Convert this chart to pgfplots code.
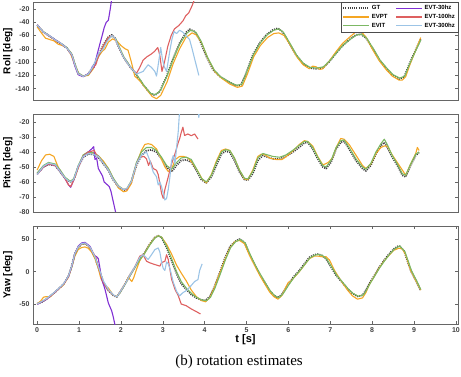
\documentclass[border=0pt]{standalone}
\usepackage{pgfplots}
\pgfplotsset{compat=1.18}
\usepackage{fontspec}
\setmainfont{Liberation Sans}
\newfontfamily\capfont{Liberation Serif}
\definecolor{cGT}{RGB}{64,64,64}
\definecolor{cEVPT}{RGB}{245,166,35}
\definecolor{cEVIT}{RGB}{124,184,100}
\definecolor{cT30}{RGB}{128,48,212}
\definecolor{cT100}{RGB}{222,96,96}
\definecolor{cT300}{RGB}{156,196,230}
\pgfplotsset{
  panel/.style={
    width=425pt, height=98pt, scale only axis,
    xmin=-0.1, xmax=10.05,
    axis line style={black!60, line width=0.6pt},
    tick style={black!60, line width=0.5pt},
    tick align=inside, major tick length=3pt,
    ytick pos=both, yticklabel pos=left,
    tick label style={font=\fontsize{7}{8}\selectfont\bfseries, text=black!75},
    /pgf/number format/assume math mode=true,
    ylabel style={font=\fontsize{10}{12}\selectfont\bfseries, at={(axis description cs:-0.059,0.5)}, anchor=center},
    every axis plot/.append style={line width=1.1pt, line join=round},
  },
  gt/.style={cGT, line width=1.7pt, dash pattern=on 1.1pt off 1.1pt},
  evpt/.style={cEVPT},
  evit/.style={cEVIT},
  t30/.style={cT30},
  t100/.style={cT100},
  t300/.style={cT300},
}
\begin{document}
\begin{tikzpicture}
\path[use as bounding box] (0,0) rectangle (461pt,-377pt);
% ---------------- Roll ----------------
\begin{axis}[panel, at={(33pt,-100pt)}, anchor=south west,
  ymin=-157, ymax=-9.5, ytick={-140,-120,...,-20}, xtick=\empty,
  ylabel={Roll [deg]},
  legend columns=3, transpose legend,
  legend style={at={(1,1)}, anchor=north east, draw=black!70, line width=0.5pt,
    font=\fontsize{6}{6.5}\selectfont\bfseries, inner sep=1pt, row sep=-1pt,
    /tikz/every even column/.append style={column sep=6pt}},
  legend cell align=left,
  legend image code/.code={\draw[#1] (0pt,0pt) -- (26pt,0pt);},
]
\addplot[gt] coordinates {(0,-44) (0.15,-55) (0.31,-61.5) (0.45,-68) (0.55,-71.5) (0.71,-79) (0.83,-89) (0.90,-104) (0.98,-117.5) (1.10,-121.5) (1.22,-118) (1.34,-106) (1.46,-90) (1.58,-74) (1.70,-62) (1.78,-59) (1.86,-64) (1.94,-76.5) (2.05,-91.5) (2.21,-106.5) (2.37,-119) (2.53,-134) (2.69,-146.5) (2.81,-150) (2.93,-144) (3.09,-121.5) (3.25,-94) (3.40,-71.5) (3.56,-55) (3.64,-50.5) (3.76,-54) (3.88,-66.5) (4.04,-91.5) (4.20,-111.5) (4.36,-121.5) (4.60,-130.5) (4.75,-135.5) (4.87,-134) (4.99,-116.5) (5.15,-89) (5.31,-71.5) (5.47,-59) (5.63,-51.5) (5.75,-49) (5.86,-54.5) (6.02,-71.5) (6.18,-89) (6.34,-101.5) (6.50,-109) (6.66,-110) (6.82,-109) (6.98,-99) (7.14,-86.5) (7.29,-75.5) (7.45,-66.5) (7.61,-59) (7.73,-58) (7.85,-63.5) (8.01,-79) (8.17,-96.5) (8.33,-109) (8.48,-119) (8.64,-125.5) (8.76,-123) (8.88,-104) (9.04,-81.5) (9.16,-65.5)};
\addlegendentry{GT}
\addplot[evpt] coordinates {(0,-47) (0.1,-56) (0.2,-64) (0.3,-66) (0.4,-68) (0.5,-73) (0.6,-75) (0.7,-78) (0.8,-88) (0.9,-104) (1.0,-118) (1.1,-121) (1.22,-120) (1.34,-110) (1.46,-92) (1.55,-84) (1.62,-80) (1.7,-70) (1.8,-65) (1.9,-68) (2.0,-75) (2.1,-80) (2.17,-82) (2.25,-100) (2.33,-121) (2.45,-128) (2.6,-140) (2.75,-152) (2.85,-155) (2.95,-150) (3.1,-130) (3.25,-102) (3.4,-80) (3.55,-63) (3.7,-56) (3.8,-59) (3.92,-70) (4.08,-95) (4.25,-115) (4.4,-124) (4.6,-133) (4.78,-138) (4.9,-136) (5.02,-118) (5.17,-92) (5.33,-75) (5.5,-63) (5.65,-57) (5.77,-56) (5.9,-60) (6.05,-75) (6.2,-92) (6.35,-104) (6.5,-110) (6.58,-106) (6.66,-107) (6.75,-111) (6.82,-110) (6.98,-98) (7.14,-84) (7.29,-72) (7.45,-63) (7.6,-55) (7.72,-53) (7.85,-62) (8.0,-80) (8.17,-98) (8.33,-111) (8.48,-121) (8.64,-127) (8.72,-127) (8.8,-122) (8.9,-104) (9.04,-82) (9.16,-63)};
\addlegendentry{EVPT}
\addplot[evit] coordinates {(0,-45) (0.15,-54) (0.31,-61) (0.45,-67) (0.55,-71) (0.71,-78) (0.83,-88) (0.90,-102) (0.98,-116) (1.10,-121) (1.22,-119) (1.34,-108) (1.46,-92) (1.58,-76) (1.70,-64) (1.80,-61) (1.88,-65) (1.96,-77) (2.07,-92) (2.23,-107) (2.39,-120) (2.55,-135) (2.71,-147) (2.83,-149) (2.95,-142) (3.11,-119) (3.27,-92) (3.42,-71) (3.58,-56) (3.67,-52) (3.79,-55) (3.91,-68) (4.07,-93) (4.23,-112) (4.38,-122) (4.62,-131) (4.77,-135) (4.89,-133) (5.01,-114) (5.17,-88) (5.33,-71) (5.49,-59) (5.65,-52) (5.77,-50) (5.88,-55) (6.04,-72) (6.20,-90) (6.36,-102) (6.52,-108) (6.68,-109) (6.84,-107) (7.00,-97) (7.16,-85) (7.31,-74) (7.47,-66) (7.63,-59) (7.75,-58) (7.87,-64) (8.03,-80) (8.19,-97) (8.35,-109) (8.50,-119) (8.66,-124) (8.78,-121) (8.90,-102) (9.06,-80) (9.16,-67)};
\addlegendentry{EVIT}
\addplot[t30] coordinates {(0,-44) (0.15,-55) (0.31,-61) (0.45,-67) (0.55,-71) (0.71,-79) (0.83,-90) (0.90,-106) (0.98,-119) (1.10,-122) (1.2,-118) (1.28,-114) (1.32,-106) (1.36,-108) (1.4,-96) (1.45,-84) (1.5,-72) (1.56,-58) (1.6,-48) (1.65,-40) (1.7,-37) (1.74,-22) (1.78,-5)};
\addlegendentry{EVT-30hz}
\addplot[t100] coordinates {(0,-44) (0.15,-55) (0.31,-61.5) (0.45,-68) (0.55,-71.5) (0.71,-79) (0.83,-89) (0.90,-104) (0.98,-117.5) (1.10,-121.5) (1.22,-118) (1.34,-108) (1.40,-104) (1.46,-92) (1.58,-75) (1.70,-63) (1.78,-60) (1.86,-64) (1.94,-76.5) (2.05,-91.5) (2.21,-106.5) (2.37,-117) (2.45,-108) (2.53,-97) (2.62,-92) (2.72,-88) (2.8,-84) (2.88,-78) (2.93,-90) (2.98,-114) (3.04,-100) (3.12,-76) (3.2,-60) (3.28,-50) (3.38,-45) (3.48,-38) (3.55,-30) (3.62,-26) (3.70,-15) (3.76,-5)};
\addlegendentry{EVT-100hz}
\addplot[t300] coordinates {(0,-44) (0.15,-55) (0.31,-61) (0.45,-67.5) (0.55,-71) (0.71,-79) (0.83,-89) (0.90,-104) (0.98,-117.5) (1.10,-121.5) (1.22,-118) (1.34,-106) (1.46,-88) (1.52,-84) (1.58,-80) (1.66,-70) (1.78,-60) (1.86,-64) (1.94,-76.5) (2.05,-91.5) (2.21,-106.5) (2.37,-118) (2.45,-116) (2.53,-114) (2.6,-108) (2.65,-104) (2.73,-108) (2.81,-114) (2.85,-121) (2.9,-100) (2.95,-78) (2.99,-95) (3.03,-106) (3.09,-114) (3.17,-82) (3.22,-65) (3.27,-54) (3.33,-57) (3.40,-52) (3.48,-55) (3.56,-61) (3.64,-66) (3.70,-80) (3.78,-100) (3.86,-120)};
\addlegendentry{EVT-300hz}
\end{axis}
% ---------------- Pitch ----------------
\begin{axis}[panel, at={(33pt,-212pt)}, anchor=south west,
  ymin=-80, ymax=-14.7, ytick={-80,-70,...,-20}, xtick=\empty,
  ylabel={Pitch [deg]}]
\addplot[gt] coordinates {(0,-54.4) (0.15,-50) (0.27,-48.3) (0.43,-49) (0.55,-53.3) (0.67,-57.7) (0.79,-60) (0.87,-58.8) (0.98,-50) (1.10,-43.5) (1.22,-41.3) (1.34,-41.7) (1.46,-43.5) (1.58,-47.9) (1.70,-52.2) (1.82,-58.8) (1.94,-63.2) (2.06,-65.4) (2.14,-65) (2.25,-60) (2.37,-48.9) (2.49,-42.4) (2.61,-39.1) (2.73,-38.6) (2.85,-40.2) (2.97,-44.6) (3.09,-50) (3.21,-53.3) (3.33,-48.9) (3.44,-45.7) (3.56,-45.2) (3.68,-46.8) (3.80,-52.2) (3.92,-58.4) (4.04,-60.6) (4.16,-56.6) (4.28,-48.9) (4.40,-41.3) (4.5,-39.5) (4.60,-40.2) (4.71,-45.7) (4.83,-53.3) (4.95,-58.4) (5.03,-58.8) (5.15,-54.4) (5.27,-45.7) (5.39,-42.4) (5.51,-43.5) (5.63,-44.6) (5.79,-44.6) (5.94,-43) (6.10,-40.2) (6.26,-36.9) (6.38,-34) (6.46,-33.6) (6.58,-38) (6.70,-44.6) (6.82,-50) (6.90,-51.1) (7.02,-46.8) (7.14,-38) (7.25,-33.6) (7.33,-32.9) (7.45,-38) (7.61,-45.7) (7.77,-51.1) (7.85,-52.7) (7.97,-48.9) (8.09,-41.3) (8.21,-35.8) (8.29,-33.6) (8.36,-36.9) (8.48,-43.5) (8.60,-48.9) (8.72,-55.5) (8.80,-56.6) (8.92,-48.9) (9.04,-42.4) (9.12,-40.2)};
\addplot[evpt] coordinates {(0,-52) (0.1,-46) (0.2,-42) (0.3,-41.5) (0.4,-43) (0.5,-50) (0.6,-55) (0.7,-58) (0.8,-60) (0.9,-57) (1.0,-49) (1.1,-42) (1.22,-40) (1.34,-41) (1.46,-42.5) (1.58,-46) (1.70,-51) (1.82,-58) (1.94,-64) (2.06,-66.5) (2.14,-66) (2.25,-61) (2.37,-48) (2.49,-39) (2.57,-35) (2.65,-34.5) (2.73,-35) (2.85,-38) (2.97,-45) (3.05,-50) (3.13,-53) (3.2,-52) (3.3,-45) (3.4,-43) (3.5,-43) (3.6,-44) (3.7,-47) (3.82,-52) (3.94,-58) (4.04,-60.6) (4.16,-55) (4.28,-46) (4.40,-39) (4.5,-38) (4.6,-39) (4.71,-44) (4.83,-52) (4.95,-58) (5.03,-58.5) (5.15,-52) (5.27,-43) (5.35,-41.5) (5.45,-42) (5.55,-44) (5.7,-45) (5.85,-45) (5.95,-43) (6.10,-39.5) (6.26,-35) (6.38,-32.5) (6.46,-33) (6.58,-36) (6.70,-43) (6.82,-48.5) (6.88,-48) (6.95,-47) (7.05,-44) (7.14,-37) (7.25,-31) (7.33,-31.5) (7.45,-35) (7.61,-42) (7.77,-49) (7.85,-51) (7.97,-48) (8.09,-41) (8.21,-37) (8.29,-36) (8.36,-36) (8.48,-42) (8.60,-47) (8.72,-52) (8.80,-55.5) (8.92,-48) (9.04,-41) (9.08,-37) (9.12,-39)};
\addplot[evit] coordinates {(0,-54) (0.15,-49) (0.27,-47) (0.43,-48) (0.55,-52) (0.67,-57) (0.79,-59.5) (0.87,-58) (0.98,-49) (1.10,-42) (1.22,-40) (1.34,-40.5) (1.46,-42.5) (1.58,-47) (1.70,-51) (1.82,-57.5) (1.94,-62.5) (2.06,-65) (2.14,-64.5) (2.25,-59) (2.37,-47) (2.49,-40) (2.61,-37) (2.73,-37) (2.85,-39) (2.97,-43.5) (3.09,-49) (3.21,-51.5) (3.33,-47) (3.44,-44) (3.56,-43.5) (3.68,-45) (3.80,-51) (3.92,-57.5) (4.04,-60) (4.16,-55.5) (4.28,-47) (4.40,-40) (4.5,-38.5) (4.60,-39) (4.71,-44) (4.83,-52) (4.95,-57.5) (5.03,-58) (5.15,-53) (5.27,-44) (5.39,-41) (5.51,-42) (5.63,-43) (5.79,-43.5) (5.94,-42) (6.10,-39) (6.26,-35.5) (6.38,-33) (6.46,-33) (6.58,-37) (6.70,-43.5) (6.82,-49) (6.90,-50) (7.02,-45.5) (7.14,-37) (7.25,-32.5) (7.33,-32) (7.45,-37) (7.61,-44.5) (7.77,-50) (7.85,-51.5) (7.97,-47.5) (8.09,-40) (8.21,-34.5) (8.29,-31.5) (8.36,-35) (8.48,-42.5) (8.60,-48) (8.72,-54.5) (8.80,-55.5) (8.92,-48) (9.04,-41.5) (9.12,-40)};
\addplot[t30] coordinates {(0,-55) (0.15,-50) (0.27,-48) (0.43,-49) (0.55,-53) (0.67,-58) (0.75,-62) (0.8,-63.5) (0.87,-59) (0.98,-50) (1.10,-43) (1.22,-40) (1.3,-38) (1.35,-36.5) (1.38,-45) (1.42,-44) (1.46,-51) (1.52,-54) (1.56,-56) (1.6,-60) (1.64,-61) (1.68,-62) (1.72,-63) (1.76,-66) (1.8,-71) (1.84,-76) (1.88,-81)};
\addplot[t100] coordinates {(0,-55) (0.15,-50) (0.27,-48) (0.43,-49) (0.55,-53) (0.67,-58) (0.75,-62) (0.8,-63) (0.87,-59) (0.98,-50) (1.10,-43) (1.22,-40) (1.3,-39.5) (1.36,-39) (1.42,-42) (1.46,-43) (1.58,-47.5) (1.70,-52) (1.82,-58.5) (1.94,-63) (2.06,-65) (2.14,-65) (2.25,-59.5) (2.37,-48) (2.45,-43.5) (2.55,-43) (2.61,-44.6) (2.66,-49) (2.7,-46) (2.77,-51) (2.85,-52.2) (2.89,-55) (2.93,-61) (2.97,-67.6) (3.01,-70.9) (3.05,-65) (3.13,-56.6) (3.21,-47.9) (3.29,-41.3) (3.37,-33.6) (3.40,-31.4) (3.44,-27) (3.48,-23.5) (3.52,-29) (3.60,-28) (3.68,-29.2) (3.76,-28) (3.84,-31.4)};
\addplot[t300] coordinates {(0,-55) (0.15,-49.5) (0.27,-47.5) (0.43,-48.5) (0.55,-53) (0.67,-57.5) (0.79,-60) (0.87,-58.5) (0.98,-49.5) (1.10,-43) (1.22,-41) (1.34,-41.5) (1.46,-43) (1.58,-47.5) (1.70,-52) (1.82,-58.5) (1.94,-63) (2.06,-65) (2.14,-64.5) (2.25,-59.5) (2.37,-48) (2.49,-42) (2.61,-40) (2.69,-45.7) (2.77,-53.3) (2.85,-56.6) (2.89,-62) (2.93,-60) (2.97,-63) (3.01,-67.6) (3.05,-72) (3.09,-71) (3.13,-65) (3.17,-56.6) (3.21,-45.7) (3.25,-42.4) (3.29,-48) (3.33,-36.9) (3.37,-26) (3.40,-12.8) (3.45,0)};
\addplot[t300, forget plot] coordinates {(3.84,-10) (3.86,-17) (3.88,-12)};
\end{axis}
% ---------------- Yaw ----------------
\begin{axis}[panel, at={(33pt,-324pt)}, anchor=south west,
  ymin=-80, ymax=70, ytick={-50,0,50},
  xtick={0,1,...,10}, xtick pos=both, xticklabel pos=bottom,
  ylabel={Yaw [deg]},
  xlabel={t [s]},
  xlabel style={font=\fontsize{11}{12}\selectfont\bfseries, at={(axis description cs:0.5,0)}, anchor=center, yshift=-16pt}]
\addplot[gt] coordinates {(0,-49) (0.1,-47) (0.23,-41.4) (0.43,-31.2) (0.63,-19) (0.75,-6) (0.83,10) (0.90,28) (0.98,37.3) (1.06,42.4) (1.14,43.4) (1.26,37.3) (1.38,22.1) (1.46,6.9) (1.58,-16) (1.70,-28.7) (1.82,-36.3) (1.90,-38.8) (1.98,-31.2) (2.10,-18.5) (2.21,-5.8) (2.33,6.9) (2.45,19.5) (2.57,29.7) (2.69,42.4) (2.81,52.5) (2.89,55.1) (2.97,52.5) (3.09,37.3) (3.21,17) (3.33,-3.3) (3.44,-18.5) (3.56,-27) (3.68,-35) (3.80,-40) (3.92,-43) (4.02,-44) (4.12,-38) (4.22,-25) (4.35,-3) (4.48,20) (4.60,38) (4.72,46) (4.83,50) (4.95,45) (5.07,27) (5.19,11) (5.31,-3) (5.43,-16) (5.55,-28.7) (5.65,-36) (5.75,-40) (5.85,-34) (5.98,-21) (6.12,-8) (6.26,1.8) (6.38,12) (6.50,22) (6.62,26) (6.70,27) (6.80,25) (6.90,19.5) (7.02,7) (7.14,-5.8) (7.28,-16) (7.41,-26) (7.53,-33) (7.65,-37.8) (7.77,-36) (7.85,-28) (7.93,-18.5) (8.05,-6) (8.17,6.9) (8.28,17) (8.40,27) (8.52,35) (8.64,40) (8.76,32) (8.84,17) (8.92,1.8) (9.04,-13) (9.16,-28.6)};
\addplot[evpt] coordinates {(0,-49) (0.08,-45) (0.15,-39) (0.22,-38) (0.3,-39) (0.43,-31) (0.63,-20) (0.75,-8) (0.83,8) (0.9,24) (0.98,34) (1.06,37) (1.14,38) (1.22,36) (1.3,30) (1.38,20) (1.46,5) (1.52,-10) (1.58,-18) (1.64,-22) (1.70,-25) (1.82,-36) (1.90,-38) (1.98,-31) (2.10,-18) (2.18,-8) (2.22,-12) (2.26,-15) (2.3,-10) (2.38,5) (2.45,17) (2.57,29) (2.69,42) (2.81,52) (2.89,55) (2.97,53) (3.09,42) (3.21,27) (3.33,10) (3.44,-2) (3.56,-14) (3.68,-28) (3.80,-38) (3.92,-44) (4.02,-46) (4.12,-40) (4.22,-26) (4.35,-4) (4.48,18) (4.60,36) (4.72,46) (4.83,48) (4.95,43) (5.07,25) (5.19,10) (5.31,-5) (5.43,-18) (5.55,-31) (5.65,-38) (5.75,-42) (5.85,-36) (5.95,-22) (6.0,-16) (6.05,-15) (6.12,-10) (6.26,0) (6.38,10) (6.50,20) (6.62,24) (6.70,24) (6.80,23) (6.90,23) (6.98,18) (7.1,2) (7.28,-16) (7.41,-28) (7.53,-37) (7.65,-42) (7.77,-40) (7.85,-32) (7.93,-20) (8.05,-7) (8.17,6) (8.28,16) (8.40,25) (8.52,33) (8.64,36) (8.72,35) (8.80,26) (8.92,2) (9.04,-13) (9.16,-28)};
\addplot[evit] coordinates {(0,-49) (0.1,-46.5) (0.23,-41) (0.43,-31) (0.63,-19) (0.75,-7) (0.83,8) (0.90,26) (0.98,36.5) (1.06,42) (1.14,43) (1.26,37.5) (1.38,22.5) (1.46,7.5) (1.58,-15) (1.70,-28) (1.82,-36) (1.90,-38.5) (1.98,-32) (2.10,-19.5) (2.21,-7) (2.33,5.5) (2.45,18) (2.57,28.5) (2.69,41) (2.81,51.5) (2.89,55) (2.97,53) (3.09,39) (3.21,20) (3.33,0) (3.44,-15) (3.56,-25) (3.68,-33) (3.80,-39) (3.92,-43) (4.04,-44.5) (4.14,-39) (4.24,-26) (4.37,-4) (4.50,19) (4.62,37) (4.74,46) (4.85,49.5) (4.97,44) (5.09,26) (5.21,10) (5.33,-4) (5.45,-17) (5.57,-29.5) (5.67,-36.5) (5.77,-40) (5.87,-34) (6.00,-21) (6.14,-8) (6.28,2) (6.40,12) (6.52,21.5) (6.64,25.5) (6.72,26.5) (6.82,24.5) (6.92,19) (7.04,6.5) (7.16,-6) (7.30,-16.5) (7.43,-26.5) (7.55,-33.5) (7.67,-37.5) (7.79,-35.5) (7.87,-27.5) (7.95,-18) (8.07,-5.5) (8.19,7) (8.30,17) (8.42,27) (8.54,35) (8.66,39.5) (8.78,31) (8.86,16.5) (8.94,1.5) (9.06,-13.5) (9.16,-27)};
\addplot[t30] coordinates {(0,-50) (0.23,-42) (0.43,-31) (0.63,-19) (0.75,-7) (0.83,9) (0.90,28) (0.98,39) (1.06,44) (1.14,45) (1.26,39) (1.34,28) (1.38,24) (1.42,23) (1.46,20) (1.50,5) (1.54,-11) (1.62,-27) (1.70,-48) (1.78,-60) (1.82,-70) (1.86,-82)};
\addplot[t100] coordinates {(0,-49.5) (0.23,-41.5) (0.43,-31) (0.63,-19) (0.75,-6.5) (0.83,9.5) (0.90,27.5) (0.98,37.5) (1.06,42.5) (1.14,43.5) (1.26,37.5) (1.34,28) (1.40,22) (1.46,7) (1.58,-16) (1.70,-28.5) (1.82,-36) (1.90,-38.5) (1.98,-31) (2.10,-18.5) (2.21,-6) (2.33,7) (2.45,23.8) (2.53,26) (2.61,16.2) (2.69,13.6) (2.81,11) (2.93,8.6) (2.97,14) (3.05,16) (3.09,26) (3.13,18.8) (3.21,-11.6) (3.29,-26.8) (3.37,-36.8) (3.44,-49.5) (3.56,-52) (3.68,-57) (3.80,-61) (3.90,-64.7)};
\addplot[t300] coordinates {(0,-49.5) (0.23,-41) (0.43,-30.5) (0.63,-18.5) (0.75,-6) (0.83,10) (0.90,28) (0.98,38) (1.06,43) (1.14,44) (1.26,38) (1.38,23) (1.46,8) (1.58,-14) (1.70,-27) (1.82,-35.5) (1.90,-38.5) (1.98,-31) (2.10,-18.5) (2.21,-6) (2.33,7) (2.45,22) (2.53,26) (2.65,18.8) (2.73,26) (2.81,33.8) (2.89,36.4) (2.93,30) (2.97,15) (3.01,5) (3.05,2) (3.09,15) (3.13,12) (3.17,5) (3.25,-16) (3.33,-30) (3.40,-37) (3.48,-32) (3.56,-29) (3.68,-21) (3.76,-15) (3.84,-12) (3.88,2) (3.94,12)};
\end{axis}
\node[font=\capfont\fontsize{15}{16}\selectfont] at (239pt,-362pt) {(b) rotation estimates};
\end{tikzpicture}
\end{document}
